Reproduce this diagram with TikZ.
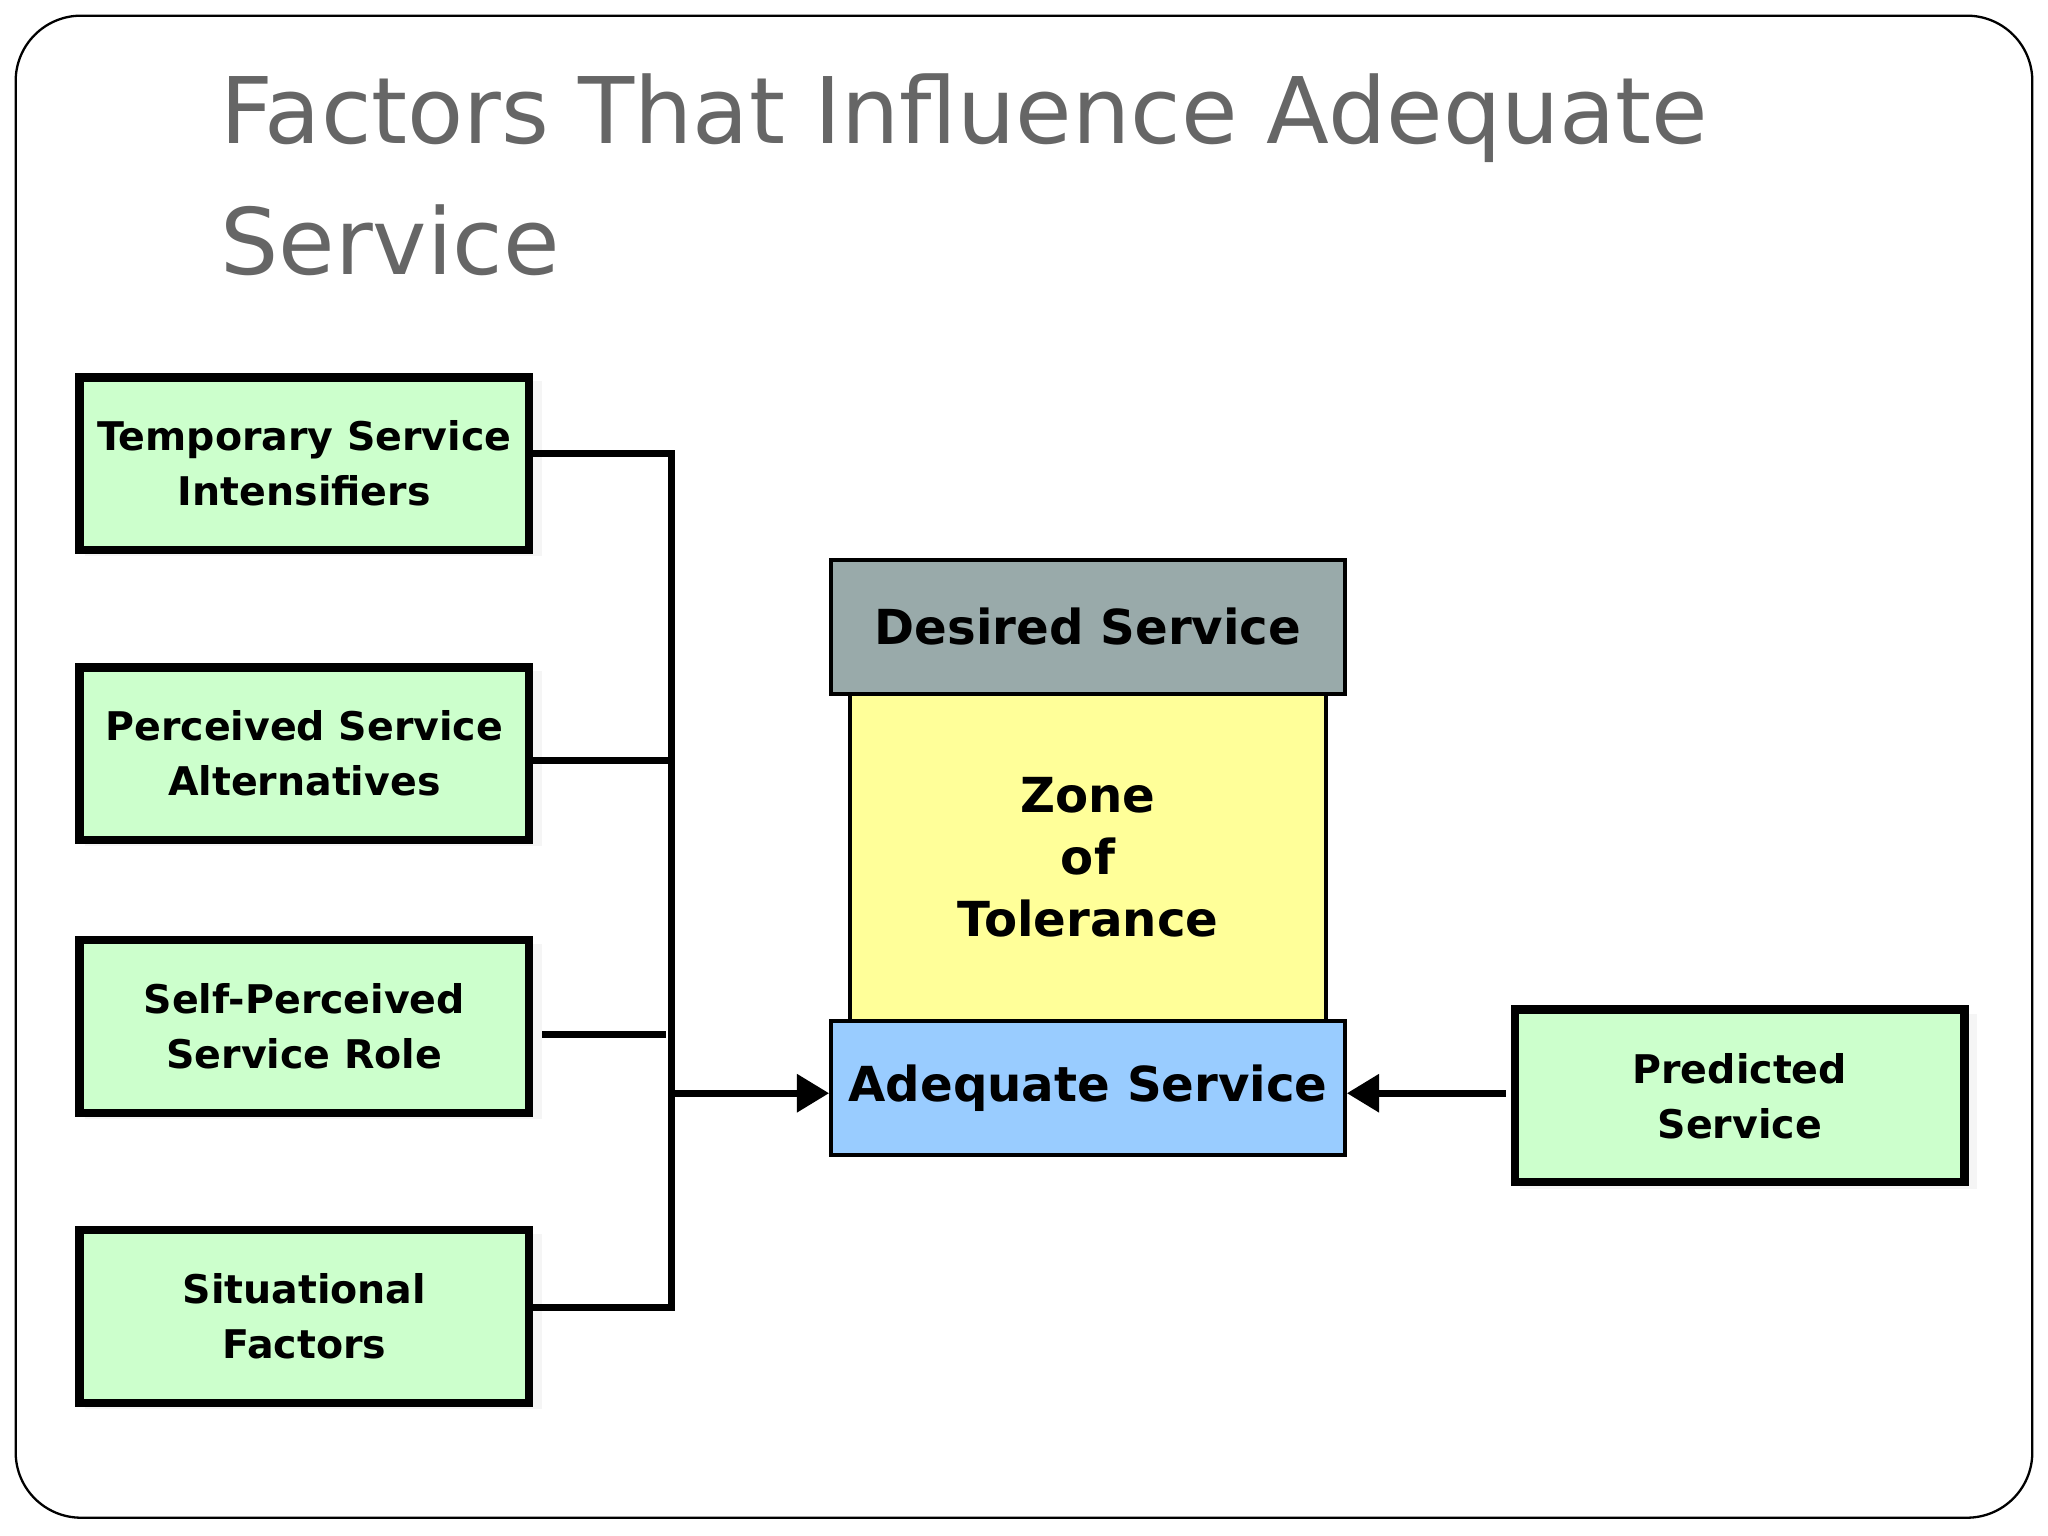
\documentclass[tikz,border=0pt]{standalone}
\usepackage{fontspec}
\setmainfont{DejaVu Sans}
\usetikzlibrary{arrows.meta}
\definecolor{gbox}{HTML}{CCFFCC}
\definecolor{dgray}{HTML}{99AAAA}
\definecolor{zyel}{HTML}{FFFF99}
\definecolor{ablue}{HTML}{99CCFF}
\definecolor{ttl}{HTML}{666666}
\tikzset{
 gb/.style={draw=black,line width=1.8pt,fill=gbox,minimum width=3.44cm,minimum height=1.32cm,align=center,font=\fontsize{8.6}{12}\selectfont\bfseries,inner sep=0pt},
 cb/.style={draw=black,line width=0.9pt,minimum width=3.93cm,align=center,inner sep=0pt},
 conn/.style={line width=1.5pt},
}
\begin{document}
\begin{tikzpicture}[x=0.01cm,y=-0.01cm]
\useasboundingbox (0,0) rectangle (1568,1176);
\draw[line width=0.5pt,rounded corners=0.5cm] (12,12) rectangle (1556,1162);
\node[anchor=base west,text=ttl,font=\fontsize{20}{24}\selectfont,inner sep=0pt] (t1) at (168,110) {Factors That Influence Adequate};
\node[anchor=base west,text=ttl,font=\fontsize{20}{24}\selectfont,inner sep=0pt] (t2) at (168,210) {Service};
% shadows
\foreach \y in {355,577,786,1008}{\fill[black!4] (233,\y)+(-168,-63) rectangle +(182,71);}
\fill[black!4] (1332,839)+(-168,-63) rectangle +(182,71);
\node[gb] (a) at (233,355) {Temporary Service\\Intensifiers};
\node[gb] (b) at (233,577) {Perceived Service\\Alternatives};
\node[gb] (c) at (233,786) {Self-Perceived\\Service Role};
\node[gb] (d) at (233,1008) {Situational\\Factors};
\node[gb] (p) at (1332,839) {Predicted\\Service};
\node[cb,fill=zyel,minimum width=3.64cm,minimum height=2.51cm,font=\fontsize{10.5}{13.5}\selectfont\bfseries] (z) at (833,656) {Zone\\of\\Tolerance};
\node[cb,fill=dgray,minimum height=1.02cm,font=\fontsize{10.5}{13.5}\selectfont\bfseries] (ds) at (833,480) {Desired Service};
\node[cb,fill=ablue,minimum height=1.02cm,font=\fontsize{10.5}{13.5}\selectfont\bfseries] (as) at (833,833) {Adequate Service};
\coordinate (top) at (514,347);
\coordinate (bot) at (514,1001);
\draw[conn] (a.east |- top) -- (top) -- (bot) -- (d.east |- bot);
\draw[conn] (b.east |- 0,582) -- (514,582);
\draw[conn] (415,792) -- (510,792);
\draw[conn,-{Triangle[length=7pt,width=8pt]}] (514,837) -- (as.west |- 0,837);
\draw[conn,-{Triangle[length=7pt,width=8pt]}] (1153,837) -- (as.east |- 0,837);
\end{tikzpicture}
\end{document}
